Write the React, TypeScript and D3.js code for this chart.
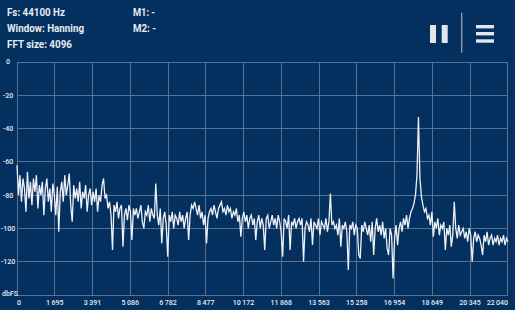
import React from "react";
import * as d3 from "d3";

const SAMPLE_RATE = 44100;
const FFT_SIZE = 4096;
const WINDOW_NAME = "Hanning";

const dbTicks = [0, -20, -40, -60, -80, -100, -120];
const freqTicks = [0, 1695, 3391, 5086, 6782, 8477, 10172, 11868, 13563, 15258, 16954, 18649, 20345, 22040];

// Spectrum magnitudes in dBFS, evenly spaced from 0 Hz to Nyquist (22050 Hz)
const spectrumDb = [
  -62, -80, -68, -84, -70, -76, -90, -66, -82, -72,
  -86, -70, -78, -68, -88, -74, -80, -72, -92, -76,
  -70, -84, -76, -90, -73, -80, -92, -75, -102, -78,
  -72, -84, -68, -80, -74, -67, -86, -96, -74, -82,
  -76, -84, -72, -88, -78, -82, -74, -90, -80, -76,
  -86, -78, -84, -76, -90, -80, -84, -74, -70, -82,
  -80, -88, -84, -92, -113, -86, -90, -84, -94, -88,
  -86, -111, -92, -88, -95, -86, -90, -107, -88, -92,
  -88, -94, -90, -86, -96, -100, -90, -92, -86, -96,
  -88, -92, -94, -73, -92, -98, -88, -109, -94, -90,
  -98, -117, -92, -96, -90, -100, -92, -94, -98, -90,
  -96, -92, -100, -94, -90, -107, -92, -86, -88, -84,
  -88, -92, -86, -94, -90, -98, -92, -109, -94, -90,
  -88, -92, -86, -90, -94, -88, -86, -84, -90, -88,
  -92, -86, -90, -88, -94, -90, -92, -88, -96, -92,
  -105, -94, -90, -96, -92, -100, -94, -92, -98, -94,
  -107, -96, -92, -100, -94, -98, -113, -94, -92, -100,
  -96, -92, -98, -94, -100, -92, -96, -102, -117, -94,
  -96, -100, -92, -113, -96, -98, -94, -100, -96, -94,
  -98, -94, -120, -100, -96, -98, -102, -94, -110, -96,
  -98, -100, -94, -104, -96, -98, -100, -94, -102, -96,
  -79, -98, -96, -100, -98, -104, -94, -111, -98, -100,
  -96, -102, -125, -98, -100, -96, -104, -98, -100, -116,
  -118, -98, -102, -96, -100, -104, -98, -108, -96, -116,
  -100, -94, -102, -98, -104, -96, -106, -100, -112, -116,
  -100, -104, -130, -106, -98, -110, -100, -96, -102, -94,
  -98, -92, -100, -94, -90, -88, -85, -80, -68, -33,
  -70, -81, -86, -90, -88, -94, -92, -98, -90, -105,
  -96, -100, -94, -104, -98, -100, -96, -113, -100, -104,
  -98, -111, -104, -84, -100, -106, -98, -104, -102, -100,
  -106, -102, -108, -100, -104, -120, -106, -102, -108, -104,
  -106, -110, -116, -104, -108, -102, -110, -106, -104, -110,
  -106, -108, -104, -110, -106, -108, -104, -110, -106, -108,
];

const BG = "#03305f";
const GRID = "#5b6f8f";
const TEXT = "#e8ebf2";

export default function App() {
  const W = 515;
  const H = 310;
  const left = 17;
  const right = 508;
  const top = 62;
  const bottom = 295;
  const nyquist = SAMPLE_RATE / 2;

  const x = d3.scaleLinear().domain([0, nyquist]).range([left, right]);
  const y = d3.scaleLinear().domain([-140, 0]).range([bottom, top]);

  const pts: [number, number][] = spectrumDb.map((v, i) => [
    (i * nyquist) / (spectrumDb.length - 1),
    v,
  ]);
  const line = d3
    .line<[number, number]>()
    .x((d) => x(d[0]))
    .y((d) => y(d[1]));

  const fmt = (n: number) => {
    const s = String(n);
    if (s.length <= 3) return s;
    return s.slice(0, s.length - 3) + "\u2009" + s.slice(s.length - 3);
  };

  const font = "Roboto, 'Noto Sans', sans-serif";

  return (
    <svg
      width={W}
      height={H}
      style={{ position: "absolute", left: 0, top: 0, display: "block" }}
      fontFamily={font}
    >
      <rect x={0} y={0} width={W} height={H} fill={BG} />

      {/* header */}
      <g fill={TEXT} fontSize={11} fontWeight={700}>
        <text x={7} y={16} textLength={58} lengthAdjust="spacingAndGlyphs">{`Fs: ${SAMPLE_RATE} Hz`}</text>
        <text x={7} y={32.3} textLength={77} lengthAdjust="spacingAndGlyphs">{`Window: ${WINDOW_NAME}`}</text>
        <text x={7} y={48.3} textLength={65} lengthAdjust="spacingAndGlyphs">{`FFT size: ${FFT_SIZE}`}</text>
        <text x={133} y={16} textLength={22} lengthAdjust="spacingAndGlyphs">M1: -</text>
        <text x={133} y={32.3} textLength={23} lengthAdjust="spacingAndGlyphs">M2: -</text>
      </g>

      {/* pause icon */}
      <rect x={430} y={25} width={6} height={18} fill="#e4e6ee" />
      <rect x={441.7} y={25} width={6} height={18} fill="#e4e6ee" />
      {/* divider */}
      <rect x={461} y={12.7} width={1.4} height={40} fill="#8a97ad" />
      {/* menu icon */}
      <rect x={476} y={25} width={18} height={3.4} fill="#e4e6ee" />
      <rect x={476} y={32} width={18} height={3.4} fill="#e4e6ee" />
      <rect x={476} y={39.3} width={18} height={3.4} fill="#e4e6ee" />

      {/* grid */}
      <g stroke={GRID} strokeWidth={1} shapeRendering="crispEdges">
        {dbTicks.map((d) => (
          <line key={"h" + d} x1={left} x2={right} y1={y(d)} y2={y(d)} />
        ))}
        <line x1={left} x2={right} y1={y(-140)} y2={y(-140)} />
        {freqTicks.map((f) => (
          <line key={"v" + f} x1={x(f)} x2={x(f)} y1={top} y2={bottom} />
        ))}
      </g>

      {/* y labels */}
      <g fill={TEXT} fontSize={7} fontWeight={500} textAnchor="middle">
        {dbTicks.map((d) => (
          <text key={"yl" + d} x={8} y={y(d)} dy="0.35em">
            {d}
          </text>
        ))}
        <text x={10} y={y(-140)} dy="0.2em">dbFS</text>
      </g>

      {/* x labels */}
      <g fill={TEXT} fontSize={7} fontWeight={500}>
        {freqTicks.map((f, i) => (
          <text
            key={"xl" + f}
            x={i === 0 ? left : i === freqTicks.length - 1 ? right : x(f)}
            y={304.5}
            textAnchor={i === 0 ? "start" : i === freqTicks.length - 1 ? "end" : "middle"}
          >
            {fmt(f)}
          </text>
        ))}
      </g>

      {/* spectrum */}
      <path
        d={line(pts) || ""}
        fill="none"
        stroke="#eef0f6"
        strokeWidth={1.3}
        strokeLinejoin="miter"
      />
    </svg>
  );
}
